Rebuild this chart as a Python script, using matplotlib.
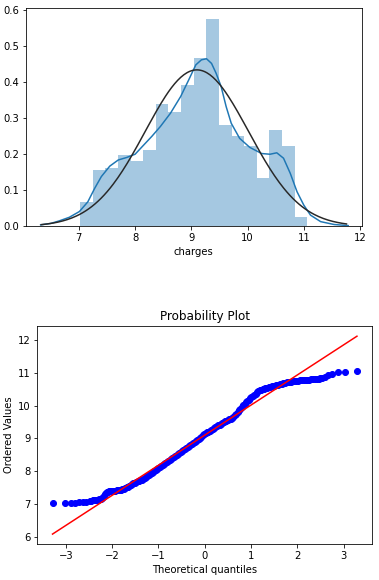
import numpy as np
import matplotlib
matplotlib.use("Agg")
from matplotlib import pyplot as plt

# histogram of log(charges): 18 equal bins between min and max
bin_lo, bin_hi = 7.022, 11.063
bar_heights = [0.067, 0.156, 0.163, 0.198, 0.180, 0.212, 0.340, 0.318, 0.393,
               0.468, 0.576, 0.281, 0.251, 0.224, 0.134, 0.268, 0.224, 0.026]

# kde curve
kde_x = [6.32, 6.50, 6.65, 6.83, 7.01, 7.16, 7.28, 7.40, 7.55, 7.70, 7.85, 8.00,
         8.15, 8.30, 8.45, 8.63, 8.81, 8.95, 9.08, 9.18, 9.27, 9.36, 9.44, 9.53,
         9.62, 9.71, 9.86, 10.04, 10.25, 10.40, 10.52, 10.64, 10.76, 10.88, 11.00,
         11.12, 11.30, 11.54, 11.79]
kde_y = [0.004, 0.008, 0.015, 0.025, 0.041, 0.068, 0.105, 0.138, 0.167, 0.184,
         0.191, 0.200, 0.225, 0.250, 0.277, 0.314, 0.360, 0.405, 0.448, 0.462,
         0.465, 0.452, 0.425, 0.388, 0.332, 0.286, 0.244, 0.219, 0.202, 0.200,
         0.204, 0.189, 0.147, 0.096, 0.059, 0.031, 0.013, 0.005, 0.002]

# normal fit
fit_mu, fit_sigma = 9.099, 0.919
fit_lo, fit_hi = 6.33, 11.76

# probability plot (theoretical quantile, ordered value)
qq_x = [-3.29, -3.03, -2.88, -2.80, -2.72, -2.64, -2.56, -2.48, -2.42, -2.36,
        -2.30, -2.25, -2.20, -2.16, -2.12, -2.07, -2.02, -1.96, -1.90, -1.84,
        -1.78, -1.72, -1.66, -1.60, -1.54, -1.48, -1.42, -1.36, -1.30, -1.24,
        -1.18, -1.12, -1.06, -1.00, -0.94, -0.88, -0.82, -0.76, -0.70, -0.64,
        -0.58, -0.52, -0.46, -0.40, -0.34, -0.28, -0.22, -0.16, -0.10, -0.04,
        0.02, 0.08, 0.14, 0.20, 0.26, 0.32, 0.38, 0.44, 0.50, 0.56,
        0.62, 0.68, 0.74, 0.80, 0.86, 0.92, 0.98, 1.04, 1.10, 1.16,
        1.22, 1.28, 1.34, 1.42, 1.50, 1.58, 1.66, 1.74, 1.82, 1.90,
        1.98, 2.06, 2.14, 2.22, 2.30, 2.38, 2.46, 2.54, 2.59, 2.66,
        2.74, 2.89, 3.04, 3.29]
qq_y = [7.02, 7.04, 7.04, 7.04, 7.05, 7.05, 7.05, 7.08, 7.11, 7.12,
        7.13, 7.15, 7.20, 7.30, 7.36, 7.39, 7.40, 7.40, 7.41, 7.42,
        7.45, 7.49, 7.53, 7.58, 7.63, 7.67, 7.70, 7.74, 7.80, 7.86,
        7.92, 7.97, 8.03, 8.09, 8.15, 8.21, 8.27, 8.33, 8.40, 8.47,
        8.53, 8.59, 8.65, 8.72, 8.78, 8.84, 8.90, 8.96, 9.02, 9.09,
        9.16, 9.21, 9.27, 9.32, 9.37, 9.42, 9.47, 9.52, 9.56, 9.60,
        9.66, 9.75, 9.86, 9.96, 10.06, 10.14, 10.22, 10.30, 10.37, 10.44,
        10.49, 10.52, 10.55, 10.58, 10.61, 10.64, 10.67, 10.70, 10.72, 10.74,
        10.76, 10.77, 10.78, 10.79, 10.80, 10.81, 10.82, 10.85, 10.87, 10.92,
        10.97, 11.02, 11.04, 11.07]

# extra readings in the dense middle part
qq_x_mid = [-2.45, -2.39, -2.33, -2.275, -2.225, -2.18, -2.14, -2.095, -2.045,
            -1.99, -1.93, -1.87, -1.81, -1.75, -1.69, -1.63, -1.57, -1.51,
            -1.45, -1.39, -1.33, -1.27, -1.21, -1.15, -1.09, -1.03, -0.97,
            -0.91, -0.85, -0.79, -0.73, -0.67, -0.61, -0.55, -0.49, -0.43,
            -0.37, -0.31, -0.25, -0.19, -0.13, -0.07, -0.01, 0.05, 0.11,
            0.17, 0.23, 0.29, 0.35, 0.41, 0.47, 0.53, 0.59, 0.65, 0.71,
            0.77, 0.83, 0.89, 0.95, 1.01, 1.07, 1.13, 1.19, 1.25, 1.31,
            1.38, 1.46, 1.54, 1.62, 1.70, 1.78, 1.86, 1.94, 2.02, 2.10,
            2.18, 2.26, 2.34, 2.42, 2.50]
qq_y_mid = [7.10, 7.115, 7.125, 7.14, 7.17, 7.25, 7.33, 7.375, 7.395,
            7.40, 7.405, 7.415, 7.43, 7.47, 7.51, 7.555, 7.605, 7.65,
            7.685, 7.72, 7.77, 7.83, 7.89, 7.945, 8.00, 8.06, 8.12,
            8.18, 8.24, 8.30, 8.365, 8.435, 8.50, 8.56, 8.62, 8.685,
            8.75, 8.81, 8.87, 8.93, 8.99, 9.055, 9.125, 9.185, 9.24,
            9.295, 9.345, 9.395, 9.445, 9.495, 9.54, 9.58, 9.63, 9.70, 9.80,
            9.91, 10.01, 10.10, 10.18, 10.26, 10.335, 10.405, 10.465, 10.505, 10.535,
            10.565, 10.595, 10.625, 10.655, 10.685, 10.71, 10.73, 10.75, 10.765, 10.775,
            10.785, 10.795, 10.805, 10.815, 10.835]
qq_slope, qq_intercept = 0.918, 9.099


def main():
    plt.rcParams['font.family'] = 'DejaVu Sans'
    plt.rcParams['font.size'] = 10
    fig = plt.figure(figsize=(379 / 72, 580 / 72), dpi=72)

    # top: distribution
    ax1 = fig.add_axes([0.0686, 0.6098, 0.8857, 0.3759])
    edges = np.linspace(bin_lo, bin_hi, len(bar_heights) + 1)
    ax1.bar(edges[:-1], bar_heights, width=np.diff(edges), align='edge',
            color='#1f77b4', alpha=0.4, linewidth=0)
    ax1.plot(kde_x, kde_y, color='#1f77b4', lw=1.5)
    fx = np.linspace(fit_lo, fit_hi, 200)
    fy = np.exp(-0.5 * ((fx - fit_mu) / fit_sigma) ** 2) / (fit_sigma * np.sqrt(2 * np.pi))
    ax1.plot(fx, fy, color='#282828', lw=1.5)
    ax1.set_xlim(6.06, 12.03)
    ax1.set_ylim(0, 0.605)
    ax1.set_xlabel('charges')

    # bottom: probability plot
    ax2 = fig.add_axes([0.0984, 0.0621, 0.8836, 0.3753])
    ax2.plot(qq_x + qq_x_mid, qq_y + qq_y_mid, 'bo', markersize=6)
    lx = np.array([min(qq_x), max(qq_x)])
    ax2.plot(lx, qq_slope * lx + qq_intercept, 'r-', lw=1.5)
    ax2.set_title('Probability Plot')
    ax2.set_xlabel('Theoretical quantiles')
    ax2.set_ylabel('Ordered Values')

    fig.savefig('out.png', dpi=72)


if __name__ == '__main__':
    main()
